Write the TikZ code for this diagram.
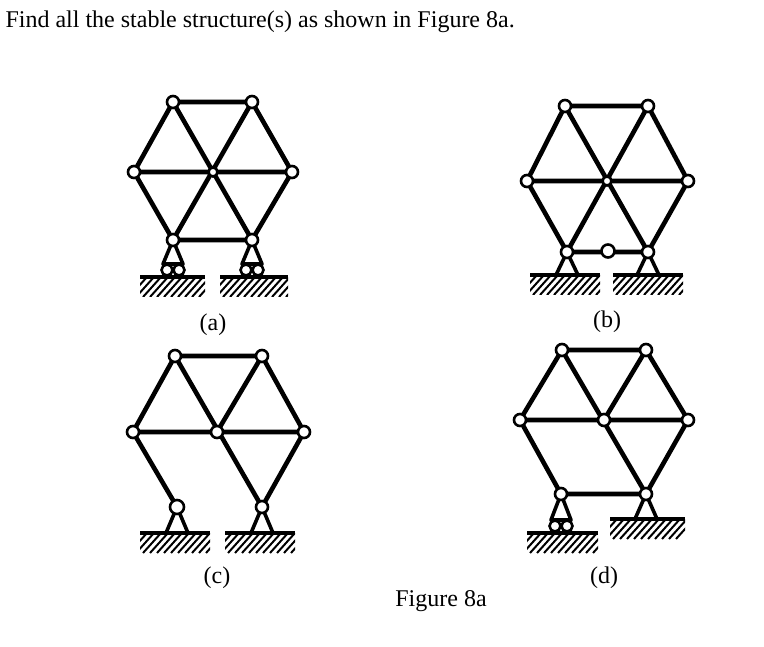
\documentclass[tikz,border=0pt]{standalone}
\usepackage{fontspec}
\setmainfont{Liberation Serif}
\begin{document}
\begin{tikzpicture}[x=1pt,y=-1pt,
  bar/.style={line width=4.6pt},
  jt/.style={circle,draw,fill=white,line width=2.6pt,minimum size=12pt,inner sep=0pt},
  lbl/.style={font=\fontsize{24}{28}\selectfont},
  gnd/.style={line width=3.5pt},
  hat/.style={line width=2pt}]
\useasboundingbox (0,0) rectangle (764,647);
\node[lbl,anchor=west] (title) at (2,22) {Find all the stable structure(s) as shown in Figure 8a.};
\newcommand{\hatch}[3]{% x1,x2,y
  \begin{scope}
  \clip (#1,#3) rectangle (#2,#3+20);
  \foreach \k in {0,7,...,90} {\draw[hat] (#1+\k,#3) -- (#1+\k-18,#3+20);}
  \end{scope}
  \draw[gnd] (#1,#3) -- (#2,#3);}
\newcommand{\pin}[3]{% x,y,ground y
  \draw[line width=3.6pt,line join=round] (#1-11,#3) -- (#1,#2) -- (#1+11,#3);}
\newcommand{\roller}[3]{% x,y,ground y
  \draw[line width=3.6pt,line join=round] (#1-10,#3-13) -- (#1,#2) -- (#1+10,#3-13) -- cycle;
  \node[jt,minimum size=11pt] at (#1-6,#3-7) {};
  \node[jt,minimum size=11pt] at (#1+6,#3-7) {};}
% (a)
\hatch{140}{205}{277}\hatch{220}{288}{277}
\roller{173}{240}{277}\roller{252}{240}{277}
\draw[bar] (173,102)--(252,102) (173,102)--(134,172) (173,102)--(252,240) (252,102)--(173,240) (252,102)--(292,172)
 (134,172)--(292,172) (134,172)--(173,240) (292,172)--(252,240) (173,240)--(252,240);
\node[jt] (a1) at (173,102){}; \node[jt] (a2) at (252,102){}; \node[jt] (a3) at (134,172){};
\node[jt,minimum size=9pt] (a4) at (213,172){}; \node[jt] (a5) at (292,172){}; \node[jt] (a6) at (173,240){}; \node[jt] (a7) at (252,240){};
\node[lbl] (la) at (213,325) {(a)};
% (b)
\hatch{530}{600}{275}\hatch{613}{683}{275}
\pin{567}{252}{275}\pin{648}{252}{275}
\draw[bar] (565,106)--(648,106) (565,106)--(527,181) (565,106)--(648,252) (648,106)--(567,252) (648,106)--(688,181)
 (527,181)--(688,181) (527,181)--(567,252) (688,181)--(648,252) (567,252)--(648,252);
\node[jt] (b1) at (565,106){}; \node[jt] (b2) at (648,106){}; \node[jt] (b3) at (527,181){};
\node[jt,minimum size=9pt] (b4) at (607,181){}; \node[jt] (b5) at (688,181){}; \node[jt] (b6) at (567,252){}; \node[jt] (b7) at (648,252){};
\node[jt,minimum size=13pt] (b8) at (608,251){};
\node[lbl] (lb) at (607,322) {(b)};
% (c)
\hatch{140}{210}{533}\hatch{225}{295}{533}
\pin{177}{507}{533}\pin{262}{507}{533}
\draw[bar] (175,356)--(262,356) (175,356)--(133,432) (175,356)--(262,507) (262,356)--(217,432) (262,356)--(304,432)
 (133,432)--(304,432) (133,432)--(177,507) (304,432)--(262,507);
\node[jt] (c1) at (175,356){}; \node[jt] (c2) at (262,356){}; \node[jt] (c3) at (133,432){};
\node[jt] (c4) at (217,432){}; \node[jt] (c5) at (304,432){}; \node[jt,minimum size=14pt] (c6) at (177,507){}; \node[jt] (c7) at (262,507){};
\node[lbl] (lc) at (217,578) {(c)};
% (d)
\hatch{527}{598}{533}\hatch{610}{685}{519}
\roller{561}{494}{533}\pin{646}{494}{519}
\draw[bar] (562,350)--(646,350) (562,350)--(520,420) (562,350)--(646,494) (646,350)--(604,420) (646,350)--(688,420)
 (520,420)--(688,420) (520,420)--(561,494) (688,420)--(646,494) (561,494)--(646,494);
\node[jt] (d1) at (562,350){}; \node[jt] (d2) at (646,350){}; \node[jt] (d3) at (520,420){};
\node[jt] (d4) at (604,420){}; \node[jt] (d5) at (688,420){}; \node[jt] (d6) at (561,494){}; \node[jt] (d7) at (646,494){};
\node[lbl] (ld) at (604,578) {(d)};
\node[lbl] (fig) at (441,601) {Figure 8a};
\end{tikzpicture}
\end{document}
